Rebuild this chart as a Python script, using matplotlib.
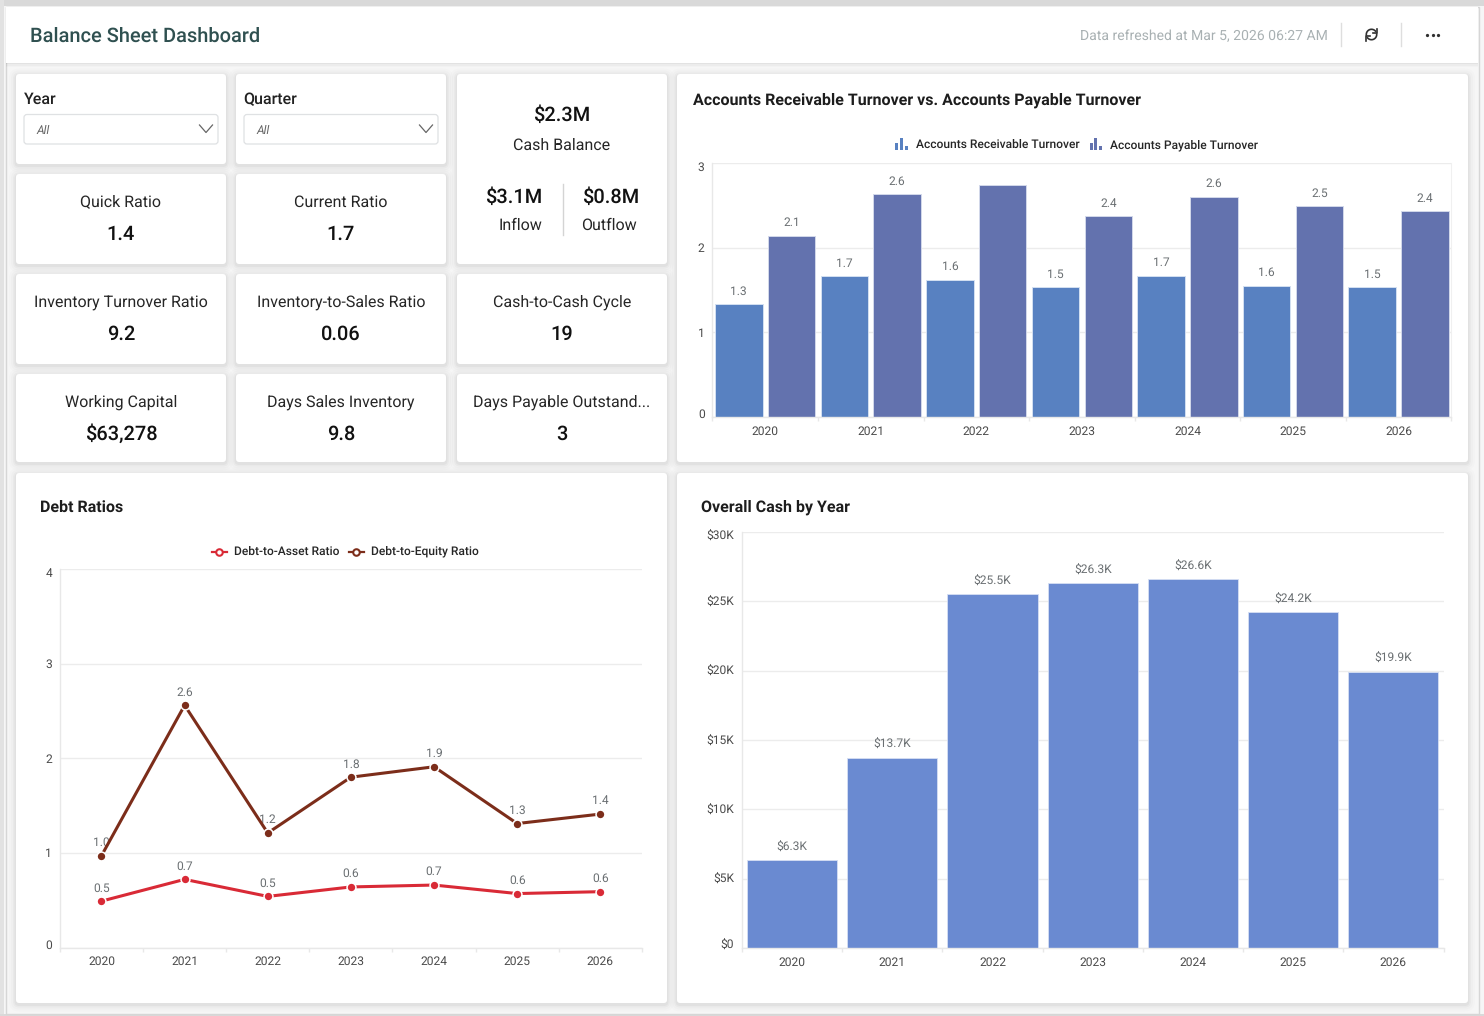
import numpy as np
import matplotlib
matplotlib.use("Agg")
import matplotlib.pyplot as plt
from matplotlib.patches import FancyBboxPatch, Rectangle
from matplotlib.transforms import ScaledTranslation

plt.rcParams["font.family"] = ["Roboto", "DejaVu Sans"]
plt.rcParams["text.hinting"] = "no_hinting"
plt.rcParams["text.hinting_factor"] = 1

W, H = 1484, 1016
PX = 0.72  # points per pixel at 100 dpi

YEARS = ["2020", "2021", "2022", "2023", "2024", "2025", "2026"]

# Turnover chart
receivable_turnover = [1.33, 1.66, 1.62, 1.53, 1.67, 1.55, 1.53]
payable_turnover = [2.14, 2.63, 2.74, 2.37, 2.60, 2.49, 2.43]
payable_label_shown = [True, True, False, True, True, True, True]

# Debt chart
debt_to_asset = [0.49, 0.72, 0.54, 0.64, 0.66, 0.57, 0.59]
debt_to_equity = [0.97, 2.56, 1.21, 1.80, 1.91, 1.31, 1.41]

# Cash chart
overall_cash = [6300, 13700, 25500, 26300, 26600, 24200, 19900]
cash_ticks = [0, 5000, 10000, 15000, 20000, 25000, 30000]
cash_tick_labels = ["$0", "$5K", "$10K", "$15K", "$20K", "$25K", "$30K"]

# KPI tiles: label, value, centre x, label y, value y
kpi_tiles = [
    ("Quick Ratio", "1.4", 121, 200.7, 233),
    ("Current Ratio", "1.7", 341, 200.7, 233),
    ("Inventory Turnover Ratio", "9.2", 121, 300.7, 333),
    ("Inventory-to-Sales Ratio", "0.06", 341, 300.7, 333),
    ("Cash-to-Cash Cycle", "19", 562, 300.7, 333),
    ("Working Capital", "$63,278", 121, 400.7, 433),
    ("Days Sales Inventory", "9.8", 341, 400.7, 433),
    ("Days Payable Outstand...", "3", 562, 400.7, 433),
]

C_RECEIVABLE = "#5881c1"
C_PAYABLE = "#6372ae"
C_CASH = "#6a8ad1"
C_ASSET = "#d92a36"
C_EQUITY = "#7c2d1a"
C_GRID = "#ececec"
C_TICK = "#4a4a4a"
C_VALUE = "#6a6f72"
C_TEXT = "#1d1d1d"

fig = plt.figure(figsize=(W / 100, H / 100), dpi=100, facecolor="#f6f6f6")
bg = fig.add_axes([0, 0, 1, 1], zorder=0)
bg.set_xlim(0, W)
bg.set_ylim(H, 0)
bg.axis("off")


def txt(x, y, s, px, color=C_TEXT, ha="center", weight="normal", style="normal"):
    # y is the middle of the capitals, so every size sits on a common baseline rule
    bg.text(x, y + 0.355 * px, s, fontsize=px * PX, color=color, ha=ha, va="baseline",
            fontweight=weight, fontstyle=style, zorder=6)


def card(x0, y0, x1, y1, radius=3):
    for grow, alpha in [(7, 0.012), (5, 0.016), (3, 0.022), (1.5, 0.03)]:
        bg.add_patch(FancyBboxPatch(
            (x0 - grow, y0 - grow + 1.5), x1 - x0 + 2 * grow, y1 - y0 + 2 * grow,
            boxstyle=f"round,pad=0,rounding_size={radius + grow}",
            fc="black", ec="none", alpha=alpha, zorder=2))
    bg.add_patch(FancyBboxPatch(
        (x0, y0), x1 - x0, y1 - y0, boxstyle=f"round,pad=0,rounding_size={radius}",
        fc="white", ec="none", zorder=3))


def chart_axes(x0, y_top, x1, y_bottom):
    ax = fig.add_axes([x0 / W, 1 - y_bottom / H, (x1 - x0) / W, (y_bottom - y_top) / H],
                      zorder=5)
    ax.patch.set_alpha(0)
    ax.set_xlim(-0.5, 6.5)
    for side in ["top", "right"]:
        ax.spines[side].set_visible(False)
    for side in ["left", "bottom"]:
        ax.spines[side].set_color("#e8e8e8")
        ax.spines[side].set_linewidth(1)
    ax.grid(axis="y", color=C_GRID, linewidth=1)
    ax.set_axisbelow(True)
    ax.set_xticks(np.arange(7))
    ax.set_xticklabels(YEARS, fontsize=12 * PX, color=C_TICK)
    ax.set_xticks(np.arange(-0.5, 7), minor=True)
    ax.tick_params(axis="x", which="major", length=0, pad=6.3)
    ax.tick_params(axis="x", which="minor", length=3, color="#e8e8e8", width=1)
    ax.tick_params(axis="y", length=0, pad=5.6, labelsize=12 * PX, labelcolor=C_TICK)
    return ax


def nudge_y_labels(ax):
    # The end labels are pulled inward so they stay within the plot height
    labels = ax.get_yticklabels()
    last = len(labels) - 1
    for k, lab in enumerate(labels):
        lab.set_verticalalignment("center")
        shift_px = 2.4 if k == 0 else (-4.3 if k == last else -1.3)
        lab.set_transform(lab.get_transform() +
                          ScaledTranslation(0, shift_px / 100, fig.dpi_scale_trans))


def value_label(ax, x, y, s, offset_px=13, zorder=1):
    ax.annotate(s, (x, y), xytext=(0, offset_px * PX), textcoords="offset points",
                ha="center", va="center", fontsize=12 * PX, color=C_VALUE, zorder=zorder)


# Page frame and header
bg.add_patch(Rectangle((0, 0), W, 5.5, fc="#d9d9d9", ec="none", zorder=1))
bg.add_patch(Rectangle((0, 0), 4, H, fc="#e2e2e2", ec="none", zorder=1))
bg.add_patch(Rectangle((0, 1014), W, 2, fc="#d9d9d9", ec="none", zorder=1))
bg.add_patch(Rectangle((5.5, 6.5), 1473, 1007, fc="#f6f6f6", ec="#d6d6d6", lw=1, zorder=1))
for grow, alpha in [(4, 0.015), (2.5, 0.025), (1, 0.04)]:
    bg.add_patch(Rectangle((6, 7), 1472, 56 + grow, fc="black", ec="none", alpha=alpha, zorder=2))
bg.add_patch(Rectangle((6, 7), 1472, 56, fc="white", ec="none", zorder=3))
txt(30, 35, "Balance Sheet Dashboard", 20, color="#2f5050", ha="left", weight="medium")
txt(1328, 35, "Data refreshed at Mar 5, 2026 06:27 AM", 14, color="#a9b1b3", ha="right")
for sep_x in (1341, 1401):
    bg.plot([sep_x, sep_x], [23, 46], color="#dedede", lw=1, zorder=4)

# Refresh icon: two arcs, each ending in a corner-shaped arrowhead
theta = np.linspace(0, 1, 30)
for start, end in [(175, 320), (-5, 140)]:
    a = np.radians(start + (end - start) * theta)
    bg.plot(1371.5 + 5.2 * np.cos(a), 34.5 + 5.2 * np.sin(a), color="#303030", lw=1.2, zorder=6)
bg.plot([1377, 1377, 1372.8], [28.5, 32.8, 32.8], color="#303030", lw=1.2, zorder=6)
bg.plot([1366, 1366, 1370.2], [40.5, 36.2, 36.2], color="#303030", lw=1.2, zorder=6)
# Overflow menu dots
bg.scatter([1427, 1432.5, 1438], [34.5] * 3, s=5.5, color="#303030", zorder=6, linewidths=0)

# Tiles
for x0 in (16, 236):
    card(x0, 74, x0 + 210, 164)
    card(x0, 174, x0 + 210, 264)
for x0 in (16, 236, 457):
    card(x0, 274, x0 + 210, 364)
    card(x0, 374, x0 + 210, 462)
card(457, 74, 667, 264)
card(677, 74, 1468, 462)
card(16, 473, 667, 1003)
card(677, 473, 1468, 1003)

# Filters
for x0, name in [(24, "Year"), (244, "Quarter")]:
    txt(x0 - 0.5, 98, name, 16, color="#222222", ha="left", weight="medium")
    bg.add_patch(FancyBboxPatch((x0, 114.5), 194, 29.5, boxstyle="round,pad=0,rounding_size=3",
                                fc="white", ec="#dfe1e3", lw=0.9, zorder=4))
    txt(x0 + 12, 129.5, "All", 12, color="#666666", ha="left", style="italic")
    bg.plot([x0 + 175.5, x0 + 182, x0 + 188.5], [125, 132.5, 125], color="#666666", lw=0.9, zorder=6)

# KPI text
for label, value, cx, y_label, y_value in kpi_tiles:
    txt(cx, y_label, label, 16, color="#262626")
    txt(cx, y_value, value, 20.5, color="#111111", weight="medium")

# Cash balance tile
txt(562, 114, "$2.3M", 20.5, color="#111111", weight="medium")
txt(562, 144.6, "Cash Balance", 16, color="#262626")
txt(513.5, 196, "$3.1M", 20.5, color="#111111", weight="medium")
txt(520.5, 224.6, "Inflow", 16, color="#262626")
txt(610.5, 196, "$0.8M", 20.5, color="#111111", weight="medium")
txt(609, 224.6, "Outflow", 16, color="#262626")
bg.plot([562.5, 562.5], [184, 235], color="#d4d4d4", lw=1, zorder=4)

# Chart titles
txt(693, 99, "Accounts Receivable Turnover vs. Accounts Payable Turnover", 15.9, ha="left", weight="bold")
txt(40, 506, "Debt Ratios", 15.9, ha="left", weight="bold")
txt(701, 506, "Overall Cash by Year", 15.9, ha="left", weight="bold")


def bar_icon(x, color):
    for dx, top in [(0, 143), (4.8, 138), (9.6, 146)]:
        bg.add_patch(Rectangle((x + dx, top), 3, 150 - top, fc=color, ec="none", zorder=6))


def line_icon(x, color):
    bg.plot([x, x + 15], [551.5, 551.5], color=color, lw=1.6, zorder=6)
    bg.scatter([x + 7.5], [551.5], s=22, fc="white", ec=color, lw=1.5, zorder=7)


bar_icon(895, C_RECEIVABLE)
txt(916, 144, "Accounts Receivable Turnover", 12, ha="left", color="#262626", weight="medium")
bar_icon(1089.5, C_PAYABLE)
txt(1110.5, 144, "Accounts Payable Turnover", 12, ha="left", color="#262626", weight="medium")
line_icon(211.5, C_ASSET)
txt(233.5, 550.3, "Debt-to-Asset Ratio", 12, ha="left", color="#262626", weight="medium")
line_icon(348.5, C_EQUITY)
txt(370.7, 550.3, "Debt-to-Equity Ratio", 12, ha="left", color="#262626", weight="medium")

# Turnover bars
ax1 = chart_axes(712.4, 163, 1451.4, 417)
ax1.set_ylim(0, 3)
ax1.set_yticks([0, 1, 2, 3])
ax1.set_yticklabels(["0", "1", "2", "3"])
nudge_y_labels(ax1)
ax1.spines["right"].set_visible(True)
ax1.spines["right"].set_color("#f0f0f0")
pos = np.arange(7)
ax1.bar(pos - 0.25, receivable_turnover, width=0.45, color=C_RECEIVABLE, edgecolor="#d3dff1", linewidth=0.7, zorder=2)
ax1.bar(pos + 0.25, payable_turnover, width=0.45, color=C_PAYABLE, edgecolor="#d3d8ea", linewidth=0.7, zorder=2)
for i in pos:
    value_label(ax1, i - 0.25, receivable_turnover[i], f"{receivable_turnover[i]:.1f}")
    if payable_label_shown[i]:
        value_label(ax1, i + 0.25, payable_turnover[i], f"{payable_turnover[i]:.1f}")

# Debt ratio lines
ax2 = chart_axes(59.9, 569, 641.9, 947.5)
ax2.set_ylim(0, 4)
ax2.set_yticks([0, 1, 2, 3, 4])
ax2.set_yticklabels(["0", "1", "2", "3", "4"])
nudge_y_labels(ax2)
for series, color in [(debt_to_asset, C_ASSET), (debt_to_equity, C_EQUITY)]:
    ax2.plot(pos, series, color=color, lw=2.2, marker="o", markersize=6.4,
             markeredgecolor="white", markeredgewidth=1.1, zorder=3, clip_on=False)
    for i in pos:
        value_label(ax2, i, series[i], f"{series[i]:.1f}", zorder=2)

# Cash bars
ax3 = chart_axes(742, 532, 1443.5, 947.8)
ax3.set_ylim(0, 30000)
ax3.set_yticks(cash_ticks)
ax3.set_yticklabels(cash_tick_labels)
nudge_y_labels(ax3)
ax3.bar(pos, overall_cash, width=0.9, color=C_CASH, edgecolor="#d6dff3", linewidth=0.6, zorder=2)
for i in pos:
    value_label(ax3, i, overall_cash[i], f"${overall_cash[i] / 1000:.1f}K")

fig.savefig("out.png", dpi=100, facecolor=fig.get_facecolor())
